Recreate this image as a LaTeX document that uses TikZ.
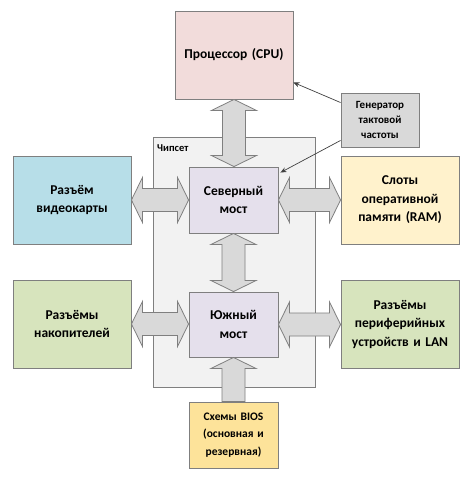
\documentclass[tikz,border=0pt]{standalone}
\usepackage{fontspec}
\setmainfont{Carlito}
\usetikzlibrary{calc,arrows.meta}
\definecolor{edgegray}{HTML}{7F7F7F}
\definecolor{cpufill}{HTML}{F2DCDB}
\definecolor{genfill}{HTML}{D9D9D9}
\definecolor{chipfill}{HTML}{F2F2F2}
\definecolor{bridgefill}{HTML}{E5E0EC}
\definecolor{videofill}{HTML}{B7DEE8}
\definecolor{ramfill}{HTML}{FFF2CC}
\definecolor{greenfill}{HTML}{D7E4BD}
\definecolor{biosfill}{HTML}{FDE39A}
\definecolor{arrowfill}{HTML}{D9D9D9}
\tikzset{
  box/.style={draw=edgegray, line width=0.9pt, align=center, inner sep=2pt,
    font=\fontsize{13.5}{18.5}\selectfont\bfseries},
  bigbox/.style={box, minimum width=118pt, minimum height=88pt, text width=112pt},
  bridge/.style={box, fill=bridgefill, minimum width=89pt, minimum height=66pt, text width=85pt},
  blockarrow/.style={draw=edgegray, fill=arrowfill, line width=0.8pt, line join=miter},
  thinarrow/.style={draw=black!75, line width=0.7pt, -{Stealth[length=6pt,width=5pt]}},
}
% half head width, half shaft width, head length
\def\hw{22.5pt}\def\sw{11.5pt}\def\hl{11pt}
\newcommand{\vdarrow}[2]{% double vertical arrow from #1 (top) to #2 (bottom)
  \draw[blockarrow] let \p1=(#1), \p2=(#2) in
    (\x1,\y1) -- (\x1+\hw,\y1-\hl) -- (\x1+\sw,\y1-\hl) -- (\x1+\sw,\y2+\hl)
    -- (\x1+\hw,\y2+\hl) -- (\x1,\y2) -- (\x1-\hw,\y2+\hl) -- (\x1-\sw,\y2+\hl)
    -- (\x1-\sw,\y1-\hl) -- (\x1-\hw,\y1-\hl) -- cycle;}
\newcommand{\hdarrow}[2]{% double horizontal arrow from #1 (left) to #2 (right)
  \draw[blockarrow] let \p1=(#1), \p2=(#2) in
    (\x1,\y1) -- (\x1+\hl,\y1+\hw) -- (\x1+\hl,\y1+\sw) -- (\x2-\hl,\y1+\sw)
    -- (\x2-\hl,\y1+\hw) -- (\x2,\y1) -- (\x2-\hl,\y1-\hw) -- (\x2-\hl,\y1-\sw)
    -- (\x1+\hl,\y1-\sw) -- (\x1+\hl,\y1-\hw) -- cycle;}
\newcommand{\vuarrow}[2]{% single arrow from #1 (bottom) up to #2 (top)
  \draw[blockarrow] let \p1=(#1), \p2=(#2) in
    (\x2,\y2) -- (\x2+\hw,\y2-\hl) -- (\x2+\sw,\y2-\hl) -- (\x2+\sw,\y1)
    -- (\x2-\sw,\y1) -- (\x2-\sw,\y2-\hl) -- (\x2-\hw,\y2-\hl) -- cycle;}
\begin{document}
\begin{tikzpicture}[x=1pt,y=-1pt]
\useasboundingbox[fill=white] (0,0) rectangle (474,482);
% chipset
\node[draw=edgegray, line width=0.9pt, fill=chipfill, minimum width=162pt, minimum height=250pt] (chip) at (234,262) {};
\node[anchor=west, font=\fontsize{10.5}{12}\selectfont\bfseries, inner sep=0pt] (chiplabel) at (157,148) {Чипсет};
% boxes
\node[bigbox, fill=cpufill] (cpu) at (234,55) {Процессор (CPU)};
\node[box, fill=genfill, minimum width=78pt, minimum height=54pt, text width=74pt,
      font=\fontsize{11}{15}\selectfont\bfseries] (gen) at (380,120) {Генератор\\тактовой\\частоты};
\node[bridge] (nb) at (233.5,200) {Северный\\мост};
\node[bridge, minimum height=65pt] (sb) at (233.5,324.5) {Южный\\мост};
\node[bigbox, fill=videofill] (video) at (72,200) {Разъём\\видеокарты};
\node[bigbox, fill=ramfill] (ram) at (400,200) {Слоты\\оперативной\\памяти (RAM)};
\node[bigbox, fill=greenfill] (stor) at (72,324) {Разъёмы\\накопителей};
\node[bigbox, fill=greenfill] (peri) at (400,324) {Разъёмы\\периферийных\\устройств и LAN};
\node[box, fill=biosfill, minimum width=89pt, minimum height=66pt, text width=85pt,
      font=\fontsize{11.5}{17.5}\selectfont\bfseries] (bios) at (233.5,435) {Схемы BIOS\\(основная и\\резервная)};
% block arrows
\vdarrow{cpu.south}{nb.north}
\vdarrow{nb.south}{sb.north}
\hdarrow{video.east}{nb.west}
\hdarrow{nb.east}{ram.west}
\hdarrow{stor.east}{sb.west}
\hdarrow{sb.east}{peri.west}
\vuarrow{bios.north}{sb.south}
% clock lines
\draw[thinarrow] ([yshift=-10pt]gen.north west) -- ([yshift=17pt]cpu.south east);
\draw[thinarrow] ([yshift=7pt]gen.south west) -- ([xshift=2pt,yshift=-6pt]nb.north east);
\end{tikzpicture}
\end{document}
